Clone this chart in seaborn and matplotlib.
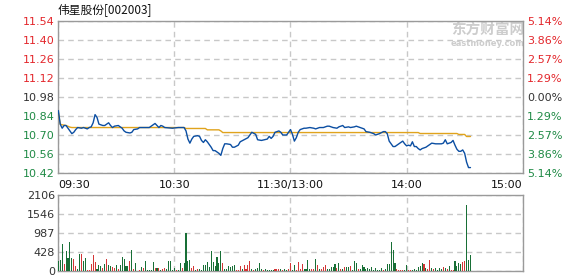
import numpy as np
import pandas as pd
import matplotlib
matplotlib.use("Agg")
import matplotlib.pyplot as plt
import seaborn as sns

# ---------------- data ----------------
title = "伟星股份[002003]"
time_ticks = [0, 60, 120, 180, 240]
time_labels = ["09:30", "10:30", "11:30/13:00", "14:00", "15:00"]
price_ticks = [11.54, 11.40, 11.26, 11.12, 10.98, 10.84, 10.70, 10.56, 10.42]
price_labels = ["11.54", "11.40", "11.26", "11.12", "10.98", "10.84", "10.70", "10.56", "10.42"]
pct_labels = ["5.14%", "3.86%", "2.57%", "1.29%", "0.00%", "1.29%", "2.57%", "3.86%", "5.14%"]
vol_max = 2106
vol_labels = ["0", "428", "987", "1546", "2106"]

price_minute = [0, 1, 2, 3, 4, 5, 7, 8, 9, 10, 12, 13, 15, 16, 17, 18, 19, 20, 21, 23, 24, 25, 26, 27, 28, 29,
                31, 32, 33, 34, 35, 37, 38, 39, 41, 42, 44, 45, 47, 48, 50, 51, 52, 53, 54, 55, 59, 62, 65, 66,
                67, 68, 69, 70, 72, 73, 74, 75, 76, 77, 79, 80, 81, 83, 84, 85, 86, 87, 89, 90, 91, 93, 94, 96,
                98, 99, 100, 102, 103, 105, 108, 109, 110, 111, 112, 114, 115, 116, 118, 119, 120, 121, 122, 123,
                124, 125, 127, 128, 130, 132, 133, 135, 137, 139, 140, 142, 144, 145, 147, 148, 150, 151, 153,
                154, 156, 158, 159, 161, 163, 164, 166, 168, 169, 170, 171, 173, 174, 175, 176, 178, 179, 180,
                181, 182, 183, 184, 185, 186, 187, 188, 190, 191, 193, 195, 196, 198, 199, 200, 201, 203, 204,
                205, 206, 207, 208, 209, 210, 211, 212, 213]
price_value = [10.88, 10.78, 10.75, 10.77, 10.77, 10.75, 10.71, 10.72, 10.74, 10.755, 10.75, 10.755, 10.745,
               10.755, 10.76, 10.79, 10.85, 10.83, 10.78, 10.77, 10.77, 10.78, 10.79, 10.77, 10.755, 10.765,
               10.77, 10.76, 10.75, 10.73, 10.72, 10.715, 10.72, 10.74, 10.745, 10.755, 10.755, 10.755, 10.755,
               10.765, 10.785, 10.77, 10.755, 10.77, 10.765, 10.755, 10.75, 10.755, 10.755, 10.73, 10.67, 10.64,
               10.67, 10.69, 10.695, 10.69, 10.66, 10.645, 10.665, 10.65, 10.61, 10.585, 10.585, 10.565, 10.55,
               10.60, 10.635, 10.635, 10.63, 10.61, 10.61, 10.625, 10.65, 10.665, 10.68, 10.70, 10.72, 10.705,
               10.665, 10.66, 10.67, 10.69, 10.675, 10.69, 10.72, 10.73, 10.72, 10.70, 10.70, 10.72, 10.74,
               10.705, 10.655, 10.68, 10.72, 10.74, 10.75, 10.75, 10.755, 10.75, 10.745, 10.755, 10.755, 10.765,
               10.765, 10.755, 10.75, 10.76, 10.77, 10.755, 10.76, 10.755, 10.76, 10.765, 10.755, 10.745, 10.725,
               10.72, 10.71, 10.70, 10.71, 10.725, 10.725, 10.71, 10.655, 10.615, 10.615, 10.625, 10.635, 10.655,
               10.635, 10.62, 10.625, 10.62, 10.65, 10.615, 10.615, 10.60, 10.59, 10.60, 10.61, 10.62, 10.64,
               10.635, 10.635, 10.635, 10.64, 10.665, 10.635, 10.645, 10.66, 10.625, 10.595, 10.58, 10.58, 10.59,
               10.565, 10.50, 10.46, 10.46]

avg_minute = [0, 1, 2, 4, 6, 7, 65, 66, 76, 77, 83, 84, 85, 186, 187, 206, 207, 210, 211, 213]
avg_value = [10.87, 10.78, 10.775, 10.77, 10.758, 10.755, 10.755, 10.748, 10.748, 10.738, 10.738, 10.730,
             10.718, 10.718, 10.711, 10.711, 10.704, 10.704, 10.689, 10.689]

vol_value = [280,
             304, 745, 193, 561, 359, 800, 359, 331, 138, 46,
             469, 469, 285, 359, 28, 28, 193, 442, 258, 46,
             166, 138, 92, 193, 331, 166, 138, 101, 83, 166,
             64, 166, 386, 331, 138, 138, 276, 580, 46, 230,
             9, 28, 101, 74, 276, 28, 28, 28, 258, 74,
             83, 83, 28, 64, 83, 46, 276, 276, 28, 74,
             28, 28, 212, 74, 212, 1049, 276, 304, 74, 138,
             28, 46,
             46, 28, 166, 166, 258, 101, 552, 239, 129, 377,
             212, 543, 230, 64, 46, 138, 101, 138, 156, 28,
             28, 138, 64, 166, 46, 166, 276, 46, 28, 46,
             83, 230, 46, 28, 64, 28, 28, 28, 28, 64,
             64, 46, 46, 28, 46, 28, 64, 230, 28, 166,
             28, 258, 46, 193, 46, 64, 304, 46, 64, 64,
             331, 166, 64, 46, 120, 166, 46, 64, 101, 120,
             184, 92, 212, 46, 46, 101, 101, 101, 147, 28,
             276, 212, 46, 46, 156, 101, 64, 83, 46, 101,
             28, 83, 28, 28,
             74, 28, 64, 193, 193, 810, 580, 230, 64, 28,
             28, 28, 28, 166, 28, 28, 28, 46, 28, 101,
             147, 221, 193, 83, 64, 304, 83, 46, 83, 28,
             83, 46, 110, 83, 46, 138, 28, 28, 276, 138,
             221, 193, 248, 276, 1822, 304, 442]

vol_dir = ("g "
           "g g r g g g g r r g "
           "g r g g r r r r r g "
           "g g r g r g g r r g "
           "r g g g g g r g r g "
           "g r g r g g g g g r "
           "g r g r r g g g g g "
           "r g g r g g g g r r "
           "g r "
           "g g g g g g g g g g "
           "g g r g g g g g g r "
           "r r g r r r r g r g "
           "g g g r g g g g g r "
           "r r g r g g r r g g "
           "r r r r g g g g r r "
           "g r g r r r g g g g "
           "g r g r g r g g r g "
           "g g r g g g g g g g "
           "g g g g "
           "g r g g g g g g r r "
           "r r g g r r g g g g "
           "g g r g r r g r g g "
           "g g r g r g r r g g "
           "g g r r g g g").split()

minutes = list(range(len(vol_value)))

# ---------------- styling ----------------
sns.set_style("white")
plt.rcParams["font.family"] = ["DejaVu Sans", "Noto Sans CJK SC"]

RED = "#e3262b"
GREEN = "#1f8a45"
DARK = "#333333"
SPINE = "#9a9a9a"
GRID = "#c8c8c8"
FS = 8
DASH = (0, (4, 3))

fig = plt.figure(figsize=(5.78, 2.76), dpi=100)
fig.patch.set_facecolor("white")

L, W = 58.3 / 578, 464.4 / 578
ax = fig.add_axes([L, (276 - 173) / 276, W, 152 / 276])
axv = fig.add_axes([L, (276 - 271) / 276, W, 76.3 / 276])

price_df = pd.DataFrame({"minute": price_minute, "price": price_value})
avg_df = pd.DataFrame({"minute": avg_minute, "avg": avg_value})
vol_df = pd.DataFrame({"minute": minutes, "volume": vol_value, "dir": vol_dir})

# watermark
ax.text(0.925, 0.94, "东方财富网", transform=ax.transAxes, ha="center", va="center",
        fontsize=10.5, fontweight="bold", color="#cdcdcd", zorder=0,
        family=["Noto Sans CJK SC", "DejaVu Sans"])
ax.text(0.925, 0.85, "eastmoney.com", transform=ax.transAxes, ha="center", va="center",
        fontsize=6, fontweight="bold", color="#cdcdcd", zorder=0)

sns.lineplot(data=avg_df, x="minute", y="avg", ax=ax, color="#e0a31c", linewidth=1.0, zorder=3)
sns.lineplot(data=price_df, x="minute", y="price", ax=ax, color="#0b4ea2", linewidth=1.0, zorder=4)

ax.set_xlim(0, 240)
ax.set_ylim(10.42, 11.54)
ax.set_xticks(time_ticks)
ax.set_xticklabels(time_labels)
ax.set_yticks(price_ticks)
ax.set_yticklabels(price_labels)
ax.set_xlabel("")
ax.set_ylabel("")
ax.tick_params(axis="both", length=0, labelsize=FS)
ax.tick_params(axis="y", pad=2.5)
ax.tick_params(axis="x", pad=5, labelcolor="#111111")
xl = ax.get_xticklabels()
xl[0].set_horizontalalignment("left")
xl[-1].set_horizontalalignment("right")
for i, t in enumerate(ax.get_yticklabels()):
    t.set_color(RED if i < 4 else (DARK if i == 4 else GREEN))
ax.grid(True, color=GRID, linestyle=DASH, linewidth=1.0)
ax.set_axisbelow(True)
for s in ax.spines.values():
    s.set_color(SPINE)
    s.set_linewidth(1.0)

axr = ax.twinx()
axr.set_ylim(10.42, 11.54)
axr.set_yticks(price_ticks)
axr.set_yticklabels(pct_labels)
axr.tick_params(axis="y", length=0, labelsize=FS, pad=3)
for i, t in enumerate(axr.get_yticklabels()):
    t.set_color(RED if i < 4 else (DARK if i == 4 else GREEN))
for s in axr.spines.values():
    s.set_visible(False)

# volume (categorical positions 0..213 == minute index)
sns.barplot(data=vol_df, x="minute", y="volume", hue="dir", palette={"r": "#ee1c1c", "g": "#0a7d32"},
            order=minutes, dodge=False, width=0.55, errorbar=None, legend=False,
            linewidth=0, ax=axv, zorder=3)
axv.set_xlim(0, 240)
axv.set_ylim(0, vol_max)
axv.set_xticks(time_ticks)
axv.set_xticklabels([])
axv.set_yticks(np.linspace(0, vol_max, 5))
axv.set_yticklabels(vol_labels)
axv.set_xlabel("")
axv.set_ylabel("")
axv.tick_params(axis="both", length=0, labelsize=FS)
axv.tick_params(axis="y", pad=2.5, labelcolor=DARK)
axv.grid(True, color=GRID, linestyle=DASH, linewidth=1.0)
axv.set_axisbelow(True)
for s in axv.spines.values():
    s.set_color(SPINE)
    s.set_linewidth(1.0)

fig.text(58 / 578, 1 - 9.5 / 276, title, ha="left", va="center", fontsize=8.5, color="#111111",
         family=["Noto Sans CJK SC", "DejaVu Sans"])

fig.savefig("out.png", dpi=100, facecolor="white")
